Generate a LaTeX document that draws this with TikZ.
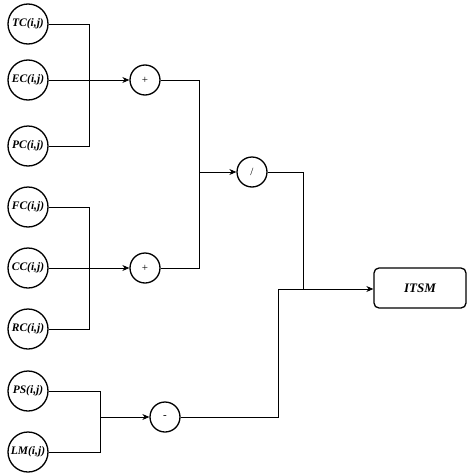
\documentclass[tikz,border=0pt]{standalone}
\usepackage{fontspec}
\setmainfont{Liberation Serif}
\usetikzlibrary{arrows.meta}
\begin{document}
\begin{tikzpicture}[x=1pt,y=-1pt,
  inp/.style={circle,draw,line width=1.3pt,minimum size=40pt,inner sep=0pt,font=\bfseries\itshape\fontsize{11.5}{13}\selectfont},
  opn/.style={circle,draw,line width=1.3pt,minimum size=30pt,inner sep=0pt,font=\fontsize{11}{12}\selectfont},
  outbox/.style={draw,line width=1.3pt,rounded corners=5pt,minimum width=92pt,minimum height=40pt,inner sep=0pt,font=\bfseries\itshape\fontsize{13}{15}\selectfont},
  wire/.style={line width=0.9pt},
  arr/.style={wire,-{Stealth[length=7pt,width=6pt]}}]
\useasboundingbox (0,0) rectangle (474,474);
% inputs
\node[inp] (tc) at (28,24) {TC(i,j)};
\node[inp] (ec) at (28,80) {EC(i,j)};
\node[inp] (pc) at (28,146) {PC(i,j)};
\node[inp] (fc) at (28,207) {FC(i,j)};
\node[inp] (cc) at (28,268) {CC(i,j)};
\node[inp] (rc) at (28,329) {RC(i,j)};
\node[inp] (ps) at (28,391) {PS(i,j)};
\node[inp] (lm) at (28,452) {LM(i,j)};
% operators
\node[opn] (p1) at (145,80) {+};
\node[opn] (p2) at (145,268) {+};
\node[opn] (mi) at (165,417) {-};
\node[opn] (dv) at (252,172) {/};
\node[outbox] (itsm) at (420,288) {ITSM};
% bus coordinates
\coordinate (b1t) at (89,24);
\coordinate (b1b) at (89,146);
\coordinate (b2t) at (89,207);
\coordinate (b2b) at (89,329);
\coordinate (b3t) at (100,391);
\coordinate (b3b) at (100,452);
\coordinate (b3m) at (100,417);
\coordinate (b4t) at (199,80);
\coordinate (b4b) at (199,268);
\coordinate (b4m) at (199,172);
\coordinate (b5t) at (303,172);
\coordinate (b5b) at (303,289);
\coordinate (b6b) at (278,417);
\coordinate (b6t) at (278,289);
% wires
\draw[wire] (tc.east) -- (b1t) -- (b1b) -- (pc.east);
\draw[arr] (ec.east) -- (p1.west);
\draw[wire] (fc.east) -- (b2t) -- (b2b) -- (rc.east);
\draw[arr] (cc.east) -- (p2.west);
\draw[wire] (ps.east) -- (b3t) -- (b3b) -- (lm.east);
\draw[arr] (b3m) -- (mi.west);
\draw[wire] (p1.east) -- (b4t) -- (b4b) -- (p2.east);
\draw[arr] (b4m) -- (dv.west);
\draw[wire] (dv.east) -- (b5t) -- (b5b);
\draw[wire] (mi.east) -- (b6b) -- (b6t);
\draw[arr] (b6t) -- (itsm.west |- b6t);
\end{tikzpicture}
\end{document}
